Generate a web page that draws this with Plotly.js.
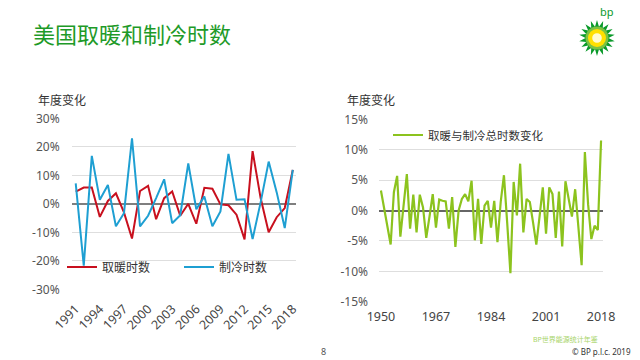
<!DOCTYPE html>
<html>
<head>
<meta charset="utf-8">
<script src="https://cdn.plot.ly/plotly-3.0.1.min.js"></script>
<style>html,body{margin:0;padding:0;background:#fff;}#chart{width:640px;height:360px;}</style>
</head>
<body>
<div id="chart"></div>
<script>
// ---- data ----
const leftYears = [1991,1992,1993,1994,1995,1996,1997,1998,1999,2000,2001,2002,2003,2004,2005,2006,2007,2008,2009,2010,2011,2012,2013,2014,2015,2016,2017,2018];
const heatingChange = [4.3,5.7,5.7,-4.6,1.0,3.7,-3.0,-12.2,4.5,6.3,-5.4,2.0,4.3,-4.2,0.0,-7.0,5.6,5.3,-0.2,-0.5,-3.8,-12.5,18.5,2.0,-10.0,-4.7,-1.5,11.9];
const coolingChange = [7.2,-21.7,16.8,1.4,6.6,-7.9,-3.3,23.0,-7.9,-4.2,2.0,8.6,-6.8,-4.0,14.2,-1.9,2.6,-7.9,-2.7,17.5,1.4,1.6,-12.4,0.5,14.8,4.0,-8.5,11.9];
const rightYears = [1950,1951,1952,1953,1954,1955,1956,1957,1958,1959,1960,1961,1962,1963,1964,1965,1966,1967,1968,1969,1970,1971,1972,1973,1974,1975,1976,1977,1978,1979,1980,1981,1982,1983,1984,1985,1986,1987,1988,1989,1990,1991,1992,1993,1994,1995,1996,1997,1998,1999,2000,2001,2002,2003,2004,2005,2006,2007,2008,2009,2010,2011,2012,2013,2014,2015,2016,2017,2018];
const totalChange = [3.3,0.5,-2.5,-5.6,3.0,5.7,-4.3,0.8,6.0,-3.0,2.6,-3.6,2.6,0.5,-4.5,-1.0,2.7,-2.8,1.8,1.6,1.5,-3.0,2.2,-6.0,0.0,1.9,2.7,1.5,4.9,-4.9,1.9,-5.5,0.8,1.6,-2.8,1.6,-5.2,1.4,5.8,-2.0,-10.3,4.7,-0.8,7.7,-3.6,1.9,1.4,-2.0,-5.6,-1.0,3.8,-3.8,3.8,2.7,-4.5,3.1,-5.9,4.8,1.9,-1.0,3.5,-3.3,-9.0,9.6,1.0,-4.7,-2.5,-3.2,11.5];
const leftTickVals = [1991,1994,1997,2000,2003,2006,2009,2012,2015,2018];
const leftTickText = ['1991','1994','1997','2000','2003','2006','2009','2012','2015','2018'];
const leftYVals = [-30,-20,-10,0,10,20,30];
const leftYText = ['-30%','-20%','-10%','0%','10%','20%','30%'];
const rightTickVals = [1950,1967,1984,2001,2018];
const rightTickText = ['1950','1967','1984','2001','2018'];
const rightYVals = [-15,-10,-5,0,5,10,15];
const rightYText = ['-15%','-10%','-5%','0%','5%','10%','15%'];
const seriesNames = ['取暖时数','制冷时数','取暖与制冷总时数变化'];

// ---- styling ----
const W = 640, H = 360;
const FONT = 'Noto Sans, Noto Sans CJK SC, sans-serif';
const px = x => x / W, py = y => 1 - y / H;

const traces = [
  {x: leftYears, y: heatingChange, name: seriesNames[0], type: 'scatter', mode: 'lines',
   line: {color: '#c8101e', width: 2}, xaxis: 'x', yaxis: 'y', legend: 'legend'},
  {x: leftYears, y: coolingChange, name: seriesNames[1], type: 'scatter', mode: 'lines',
   line: {color: '#1e9fd2', width: 2}, xaxis: 'x', yaxis: 'y', legend: 'legend'},
  {x: rightYears, y: totalChange, name: seriesNames[2], type: 'scatter', mode: 'lines',
   line: {color: '#8cc31e', width: 2.2}, xaxis: 'x2', yaxis: 'y2', legend: 'legend2'}
];

// BP helios logo shapes
function starPath(cx, cy, rOut, rIn, n) {
  let d = '';
  for (let i = 0; i < 2 * n; i++) {
    const r = i % 2 === 0 ? rOut : rIn;
    const a = Math.PI * i / n - Math.PI / 2;
    const X = px(cx + r * Math.cos(a)), Y = py(cy + r * Math.sin(a));
    d += (i === 0 ? 'M' : 'L') + X.toFixed(5) + ',' + Y.toFixed(5);
  }
  return d + 'Z';
}
function circle(cx, cy, r, color) {
  return {type: 'circle', xref: 'paper', yref: 'paper', x0: px(cx - r), x1: px(cx + r),
    y0: py(cy + r), y1: py(cy - r), fillcolor: color, line: {width: 0}, layer: 'above'};
}
const LX = 597, LY = 38;
const shapes = [
  {type: 'path', xref: 'paper', yref: 'paper', path: starPath(LX, LY, 18, 11.5, 18),
   fillcolor: '#0a9a2a', line: {width: 0}, layer: 'above'},
  circle(LX, LY, 11.5, '#7cc242'),
  circle(LX, LY, 9, '#ffe000'),
  circle(LX, LY, 4.8, '#fffbd0')
];

const axisY = {
  showgrid: true, gridcolor: '#dedede', gridwidth: 1,
  zeroline: true, zerolinecolor: '#7f7f7f', zerolinewidth: 2,
  showline: false, ticks: '', tickfont: {family: FONT, size: 12, color: '#555'},
  ticklabelstandoff: 11, fixedrange: true
};

const layout = {
  width: W, height: H, margin: {l: 0, r: 0, t: 0, b: 0},
  paper_bgcolor: '#fff', plot_bgcolor: 'rgba(0,0,0,0)',
  font: {family: FONT, color: '#333'},
  title: {text: '美国取暖和制冷时数', x: px(33), xanchor: 'left', y: py(35), yanchor: 'middle',
    xref: 'paper', yref: 'paper', font: {family: FONT, size: 22, color: '#1e9a28'}},
  xaxis: {domain: [px(71.7), px(296)], range: [1990.5, 2018.4], anchor: 'y',
    tickvals: leftTickVals, ticktext: leftTickText, tickangle: -45, showgrid: false,
    zeroline: false, showline: false, ticks: '', ticklabelstandoff: 9,
    tickfont: {family: FONT, size: 12.5, color: '#444'}},
  yaxis: Object.assign({}, axisY, {domain: [py(289.3), py(118.3)], range: [-30, 30], anchor: 'x',
    tickvals: leftYVals, ticktext: leftYText}),
  xaxis2: {domain: [px(379), px(603)], range: [1949.4, 2018.6], anchor: 'y2',
    tickvals: rightTickVals, ticktext: rightTickText, tickangle: 0, showgrid: false,
    zeroline: false, showline: false, ticks: '', ticklabelstandoff: 6,
    tickfont: {family: FONT, size: 12.5, color: '#444'}},
  yaxis2: Object.assign({}, axisY, {domain: [py(301.7), py(119.3)], range: [-15, 15], anchor: 'x2',
    tickvals: rightYVals, ticktext: rightYText, zerolinecolor: '#666', ticklabelstandoff: 10}),
  showlegend: true,
  legend: {orientation: 'h', x: px(62), y: py(267), xanchor: 'left', yanchor: 'middle',
    bgcolor: 'rgba(255,255,255,0)', font: {family: FONT, size: 12, color: '#333'},
    entrywidth: 72, entrywidthmode: 'pixels', traceorder: 'normal'},
  legend2: {orientation: 'h', x: px(388), y: py(135), xanchor: 'left', yanchor: 'middle',
    bgcolor: 'rgba(255,255,255,0)', font: {family: FONT, size: 11.5, color: '#333'}},
  shapes: shapes,
  annotations: [
    {text: '年度变化', x: px(36), y: py(100), xref: 'paper', yref: 'paper', xanchor: 'left', yanchor: 'middle',
     showarrow: false, font: {family: FONT, size: 12, color: '#333'}},
    {text: '年度变化', x: px(345), y: py(100), xref: 'paper', yref: 'paper', xanchor: 'left', yanchor: 'middle',
     showarrow: false, font: {family: FONT, size: 12, color: '#333'}},
    {text: 'bp', x: px(607), y: py(12), xref: 'paper', yref: 'paper', xanchor: 'center', yanchor: 'middle',
     showarrow: false, font: {family: FONT, size: 11, color: '#0a9a2a'}},
    {text: '8', x: px(323), y: py(351), xref: 'paper', yref: 'paper', xanchor: 'center', yanchor: 'middle',
     showarrow: false, font: {family: FONT, size: 9, color: '#555'}},
    {text: 'BP世界能源统计年鉴', x: px(600), y: py(339), xref: 'paper', yref: 'paper', xanchor: 'right', yanchor: 'middle',
     showarrow: false, font: {family: FONT, size: 7, color: '#a8d46a'}},
    {text: '© BP p.l.c. 2019', x: px(633), y: py(351), xref: 'paper', yref: 'paper', xanchor: 'right', yanchor: 'middle',
     showarrow: false, font: {family: FONT, size: 8, color: '#333'}}
  ]
};

Plotly.newPlot('chart', traces, layout, {staticPlot: true, displayModeBar: false});
</script>
</body>
</html>
